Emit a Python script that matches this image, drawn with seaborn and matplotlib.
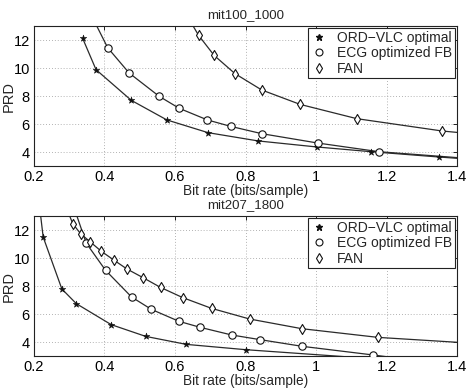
import matplotlib
matplotlib.use("Agg")
import matplotlib.pyplot as plt
from matplotlib.lines import Line2D
import seaborn as sns
import pandas as pd

# ---------------- data ----------------
# Panel 1: mit100_1000
ord1_x = [0.338, 0.376, 0.476, 0.577, 0.694, 0.836, 1.002, 1.157, 1.350]
ord1_y = [12.12, 9.88, 7.69, 6.29, 5.38, 4.79, 4.36, 4.02, 3.64]
ecg1_x = [0.409, 0.470, 0.555, 0.612, 0.692, 0.758, 0.846, 1.005, 1.179]
ecg1_y = [11.45, 9.64, 7.98, 7.12, 6.29, 5.83, 5.31, 4.64, 4.02]
fan1_x = [0.667, 0.711, 0.770, 0.846, 0.955, 1.116, 1.358]
fan1_y = [12.33, 10.90, 9.60, 8.43, 7.40, 6.38, 5.50]
# curve ends beyond the markers (read at the axes edges)
ord1_start = (0.338, 12.12); ord1_end = (1.40, 3.55)
ecg1_start = (0.376, 13.10); ecg1_end = (1.40, 3.60)
fan1_start = (0.649, 13.10); fan1_end = (1.40, 5.40)

# Panel 2: mit207_1800
ord2_x = [0.226, 0.279, 0.320, 0.419, 0.517, 0.632, 0.801]
ord2_y = [11.50, 7.79, 6.74, 5.24, 4.40, 3.83, 3.45]
ecg2_x = [0.348, 0.403, 0.477, 0.533, 0.611, 0.671, 0.761, 0.841, 0.961, 1.163]
ecg2_y = [11.07, 9.12, 7.21, 6.33, 5.48, 5.05, 4.50, 4.17, 3.69, 3.07]
fan2_x = [0.310, 0.332, 0.360, 0.391, 0.426, 0.464, 0.509, 0.559, 0.622,
          0.704, 0.812, 0.960, 1.176]
fan2_y = [12.45, 11.74, 11.14, 10.48, 9.86, 9.21, 8.60, 7.90, 7.17,
          6.40, 5.64, 4.95, 4.33]
ord2_start = (0.218, 13.20); ord2_end = (1.10, 2.92)
ecg2_start = (0.319, 13.20); ecg2_end = (1.20, 2.95)
fan2_start = (0.298, 13.20); fan2_end = (1.40, 3.98)

titles = ["mit100_1000", "mit207_1800"]
series_names = ["ORD\u2212VLC optimal", "ECG optimized FB", "FAN"]
xticks = [0.2, 0.4, 0.6, 0.8, 1.0, 1.2, 1.4]
xticklabels = ["0.2", "0.4", "0.6", "0.8", "1", "1.2", "1.4"]
yticks = [4, 6, 8, 10, 12]
xlabel = "Bit rate (bits/sample)"
ylabel = "PRD"

# ---------------- style ----------------
sns.set_style("white")
plt.rcParams["font.family"] = ["Liberation Sans", "DejaVu Sans"]
plt.rcParams["axes.unicode_minus"] = True

fig = plt.figure(figsize=(4.74, 3.88), dpi=100)
ax1 = fig.add_axes([34/474, 1 - 166/388, (457-34)/474, (166-26)/388])
ax2 = fig.add_axes([34/474, 1 - 356/388, (457-34)/474, (356-216)/388])

LC = "#2a2a2a"
markers = ["*", "o", "d"]
msizes = [28, 26]

panels = [
    (ax1, [(ord1_x, ord1_y, ord1_start, ord1_end),
           (ecg1_x, ecg1_y, ecg1_start, ecg1_end),
           (fan1_x, fan1_y, fan1_start, fan1_end)]),
    (ax2, [(ord2_x, ord2_y, ord2_start, ord2_end),
           (ecg2_x, ecg2_y, ecg2_start, ecg2_end),
           (fan2_x, fan2_y, fan2_start, fan2_end)]),
]

for i, (ax, series) in enumerate(panels):
    for j, (xs, ys, st, en) in enumerate(series):
        lx = [st[0]] + list(xs) + [en[0]]
        ly = [st[1]] + list(ys) + [en[1]]
        dfl = pd.DataFrame({"x": lx, "y": ly})
        sns.lineplot(data=dfl, x="x", y="y", ax=ax, sort=False, estimator=None,
                     color=LC, linewidth=0.9, legend=False)
        dfm = pd.DataFrame({"x": xs, "y": ys})
        if markers[j] == "*":
            sns.scatterplot(data=dfm, x="x", y="y", ax=ax, marker="*", s=24,
                            color="#111111", edgecolor="#111111", linewidth=0.4,
                            legend=False, zorder=3)
        else:
            sns.scatterplot(data=dfm, x="x", y="y", ax=ax, marker=markers[j],
                            s=msizes[j - 1], facecolor="white",
                            edgecolor="#111111", linewidth=0.8, legend=False,
                            zorder=3)
    ax.set_xlim(0.2, 1.4)
    ax.set_ylim(3, 13)
    ax.set_xticks(xticks)
    ax.set_xticklabels(xticklabels)
    ax.set_yticks(yticks)
    ax.tick_params(direction="in", length=3, width=0.6, top=True, right=True,
                   labelsize=10.5, pad=3, colors="black")
    ax.grid(True, linestyle=(0, (1, 2.5)), color="#999999", linewidth=0.6)
    for sp in ax.spines.values():
        sp.set_color("#222222")
        sp.set_linewidth(0.8)
    ax.set_title(titles[i], fontsize=9.5, pad=6)
    ax.set_xlabel(xlabel, fontsize=9.8, labelpad=0)
    ax.set_ylabel(ylabel, fontsize=10.5)
    ax.yaxis.set_label_coords(-0.043, 0.5)

    handles = [
        Line2D([], [], linestyle="none", marker="*", markersize=4.5,
               color="#111111"),
        Line2D([], [], linestyle="none", marker="o", markersize=5,
               markerfacecolor="white", markeredgecolor="#111111",
               markeredgewidth=0.8),
        Line2D([], [], linestyle="none", marker="d", markersize=5,
               markerfacecolor="white", markeredgecolor="#111111",
               markeredgewidth=0.8),
    ]
    leg = ax.legend(handles, series_names, loc="upper right", fontsize=10,
                    frameon=True, fancybox=False, borderpad=0.2,
                    labelspacing=0.1, handlelength=1.2, handletextpad=0.7,
                    borderaxespad=0.15, framealpha=1)
    leg.get_frame().set_edgecolor("#222222")
    leg.get_frame().set_linewidth(0.8)

fig.savefig("out.png", dpi=100)
